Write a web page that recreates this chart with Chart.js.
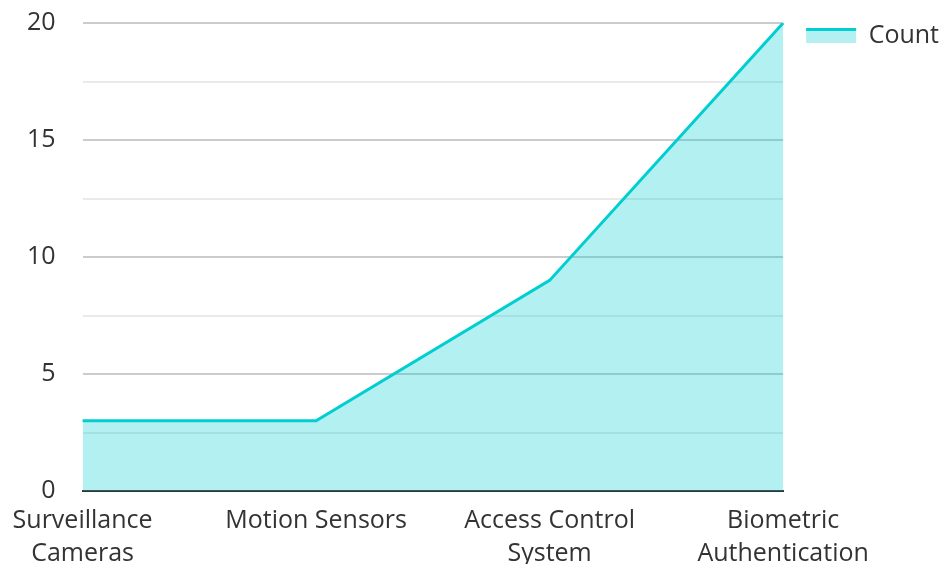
<!DOCTYPE html>
<html>
<head>
<meta charset="utf-8">
<script src="https://cdn.jsdelivr.net/npm/chart.js@4"></script>
<style>
  html, body { margin: 0; padding: 0; background: #fff; }
  #wrap { width: 941px; height: 564px; }
</style>
</head>
<body>
<div id="wrap"><canvas id="countChart"></canvas></div>
<script>
const categories = [
    ['Surveillance', 'Cameras'],
    'Motion Sensors',
    ['Access Control', 'System'],
    ['Biometric', 'Authentication']
];
const countValues = [3, 3, 9, 20];
const yMajorTicks = [0, 5, 10, 15, 20];

const lineColor = 'rgb(0, 206, 209)';
const fillColor = 'rgba(0, 206, 209, 0.3)';

// legend box: fill only, then a top line like the reference
const legendLinePlugin = {
    id: 'legendLine',
    afterDraw(chart) {
        const legend = chart.legend;
        if (!legend || !legend.legendHitBoxes) return;
        const ctx = chart.ctx;
        legend.legendHitBoxes.forEach(box => {
            const bw = legend.options.labels.boxWidth;
            const bh = legend.options.labels.boxHeight;
            const top = box.top + (box.height - bh) / 2;
            ctx.save();
            ctx.strokeStyle = lineColor;
            ctx.lineWidth = 3;
            ctx.beginPath();
            ctx.moveTo(box.left, top + 1.5);
            ctx.lineTo(box.left + bw, top + 1.5);
            ctx.stroke();
            ctx.restore();
        });
    }
};

Chart.defaults.font.family = '"Open Sans", "Noto Sans", sans-serif';
Chart.defaults.color = '#333';

const chart = new Chart(document.getElementById('countChart'), {
    type: 'line',
    data: {
        labels: categories,
        datasets: [{
            label: 'Count',
            data: countValues,
            borderColor: lineColor,
            backgroundColor: fillColor,
            borderWidth: 3,
            fill: 'origin',
            tension: 0,
            pointRadius: 0
        }]
    },
    plugins: [legendLinePlugin],
    options: {
        responsive: true,
        maintainAspectRatio: false,
        animation: false,
        layout: {
            padding: { top: 0, left: 0, right: -8, bottom: -12 }
        },
        scales: {
            x: {
                offset: false,
                z: 1, // axis line on top of the fill
                grid: { display: false },
                border: { display: true, color: '#333', width: 2 },
                ticks: {
                    font: { size: 25, lineHeight: 1.3 },
                    color: '#333',
                    maxRotation: 0,
                    autoSkip: false,
                    padding: 6
                }
            },
            y: {
                min: 0,
                max: 20,
                border: { display: false },
                afterFit: scale => { scale.paddingTop = 23; },
                grid: {
                    drawTicks: false,
                    color: ctx => yMajorTicks.includes(ctx.tick.value) ? '#cccccc' : '#eaeaea',
                    lineWidth: ctx => ctx.tick.value === 0 ? 0 : 2
                },
                ticks: {
                    stepSize: 2.5,
                    font: { size: 25 },
                    color: '#333',
                    padding: 27,
                    callback: v => yMajorTicks.includes(v) ? String(v) : ''
                }
            }
        },
        plugins: {
            tooltip: { enabled: false },
            legend: {
                position: 'right',
                align: 'start',
                labels: {
                    boxWidth: 50,
                    boxHeight: 15,
                    font: { size: 25 },
                    color: '#333',
                    padding: 23,
                    generateLabels: chart => Chart.defaults.plugins.legend.labels.generateLabels(chart)
                        .map(item => Object.assign(item, { lineWidth: 0 }))
                }
            }
        }
    }
});
</script>
</body>
</html>
